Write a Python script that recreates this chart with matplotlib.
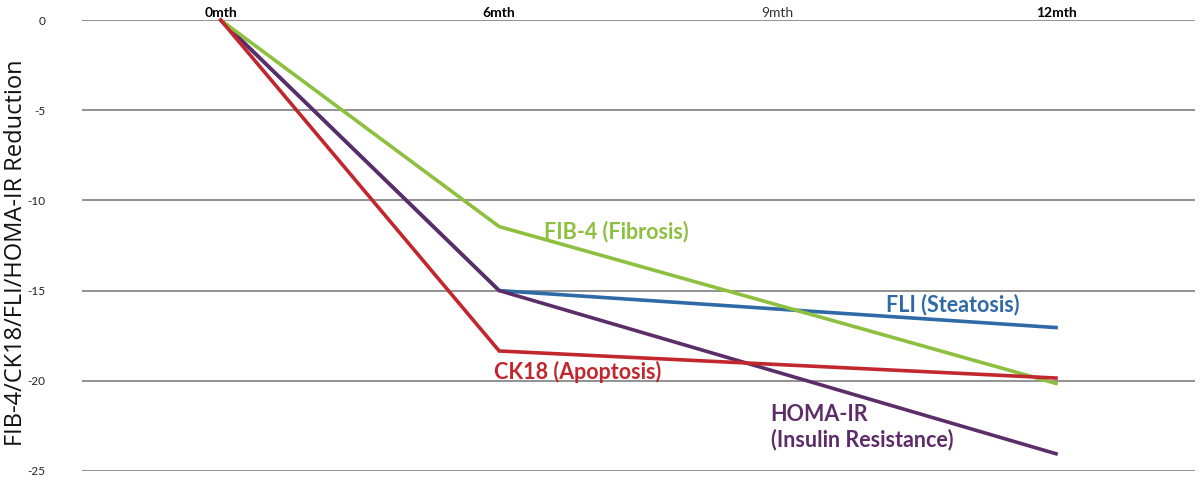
import numpy as np
import matplotlib.pyplot as plt

# periods and series values (None = no data point)
months = ['0mth', '6mth', '9mth', '12mth']
fib4 = [0, -11.45, None, -20.15]
fli = [0, -15.0, None, -17.05]
ck18 = [0, -18.35, None, -19.85]
homa = [0, -15.0, None, -24.05]
yticks = [0, -5, -10, -15, -20, -25]

GREEN = '#8dc03f'
BLUE = '#2f6aa6'
RED = '#c1272d'
PURPLE = '#5c2d68'

plt.rcParams['font.family'] = ['Lato', 'DejaVu Sans']

fig = plt.figure(figsize=(12, 4.8), dpi=100)
ax = fig.add_axes([0.068, 0.019, 0.928, 0.939])


def draw(vals, color):
    xs = [i for i, v in enumerate(vals) if v is not None]
    ys = [v for v in vals if v is not None]
    ax.plot(xs, ys, color=color, lw=2.6, clip_on=False, zorder=3,
            solid_joinstyle='miter')


draw(fli, BLUE)
draw(homa, PURPLE)
draw(fib4, GREEN)
draw(ck18, RED)

ax.set_xlim(-0.5, 3.5)
ax.set_ylim(-25, 0)
ax.set_yticks(yticks)
ax.set_yticklabels([str(t) for t in yticks], fontsize=8.5, color='#222222')
ax.yaxis.grid(True, color='#7f7f7f', lw=1.2)
ax.set_axisbelow(True)
ax.tick_params(axis='y', length=0, pad=26)

ax.xaxis.tick_top()
ax.set_xticks(range(len(months)))
ax.set_xticklabels(months, fontsize=10)
for lbl in ax.get_xticklabels():
    if lbl.get_text() != '9mth':
        lbl.set_fontweight('bold')
    else:
        lbl.set_color('#333333')
ax.tick_params(axis='x', length=0, pad=1)

for s in ax.spines.values():
    s.set_visible(False)

fig.text(0.013, 0.473, 'FIB-4/CK18/FLI/HOMA-IR Reduction', fontsize=17,
         family=['Open Sans', 'DejaVu Sans'], rotation=90,
         ha='center', va='center', color='#111111')

# series labels
ax.text(1.42, -11.7, 'FIB-4 (Fibrosis)', color=GREEN, fontsize=15.5,
        fontweight='bold', ha='center', va='center')
ax.text(2.63, -15.75, 'FLI (Steatosis)', color=BLUE, fontsize=15.5,
        fontweight='bold', ha='center', va='center')
ax.text(1.28, -19.5, 'CK18 (Apoptosis)', color=RED, fontsize=15.5,
        fontweight='bold', ha='center', va='center')
ax.text(1.975, -22.6, 'HOMA-IR\n(Insulin Resistance)', color=PURPLE,
        fontsize=15.5, fontweight='bold', ha='left', va='center',
        linespacing=1.2)

fig.savefig('out.png', dpi=100)
